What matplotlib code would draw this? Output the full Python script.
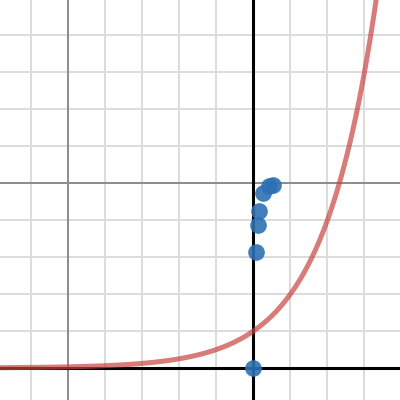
import numpy as np
import matplotlib
matplotlib.use("Agg")
import matplotlib.pyplot as plt

# data points
pts_x = [0.0, 0.06, 0.11, 0.16, 0.26, 0.43, 0.53]
pts_y = [0.0, 3.14, 3.86, 4.25, 4.72, 4.92, 4.96]

# fitted curve y = a * b**x
curve_a = 1.0
curve_b = 2.0

x_min, x_max = -6.85, 3.96
y_min, y_max = -0.865, 9.95

fig = plt.figure(figsize=(4, 4), dpi=100)
ax = fig.add_axes([0, 0, 1, 1])
ax.set_xlim(x_min, x_max)
ax.set_ylim(y_min, y_max)
for s in ax.spines.values():
    s.set_visible(False)
ax.set_xticks([])
ax.set_yticks([])

# minor grid
for gx in range(-6, 4):
    ax.axvline(gx, color="#dcdcdc", lw=1.4, zorder=0)
for gy in range(0, 10):
    ax.axhline(gy, color="#dcdcdc", lw=1.4, zorder=0)
# major grid
ax.axvline(-5, color="#8c8c8c", lw=1.4, zorder=0.5)
ax.axhline(5, color="#8c8c8c", lw=1.4, zorder=0.5)
# axes
ax.axvline(0, color="black", lw=2.2, zorder=1)
ax.axhline(0, color="black", lw=2.2, zorder=1)

xs = np.linspace(x_min, x_max, 400)
ax.plot(xs, curve_a * curve_b ** xs, color="#c74440", alpha=0.7, lw=3.6,
        solid_capstyle="butt", zorder=2)

ax.plot(pts_x, pts_y, "o", color="#2d70b3", alpha=0.9, ms=12,
        markeredgewidth=0, zorder=3)

fig.savefig("out.png", dpi=100)
